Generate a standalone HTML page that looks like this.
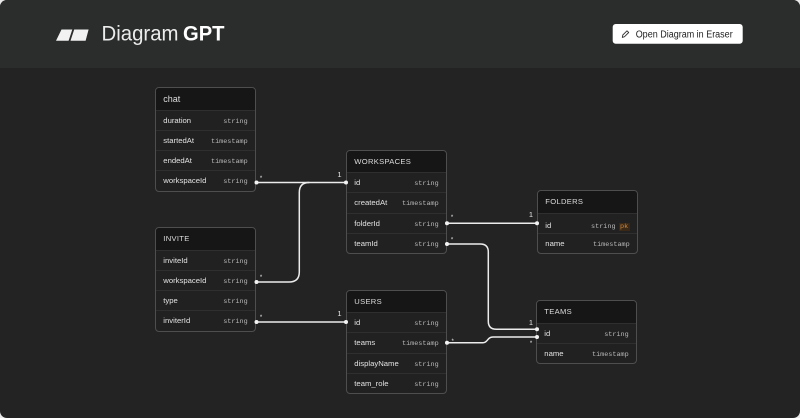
<!DOCTYPE html>
<html>
<head>
<meta charset="utf-8">
<style>
html,body{margin:0;padding:0;width:800px;height:418px;overflow:hidden;background:#e9e9e9;}
#wrap{position:absolute;left:0;top:0;width:800px;height:418px;background:#232323;border-radius:7px;overflow:hidden;}
#hdr{position:absolute;left:0;top:0;width:800px;height:68px;background:#2b2c2c;}
.t{position:absolute;width:101px;box-sizing:border-box;border:1px solid #4e4e4e;border-radius:4px;overflow:hidden;background:#212121;font-family:"Liberation Sans",sans-serif;}
.h{height:21.5px;background:#161616;color:#dcdcdc;font-size:7.6px;letter-spacing:0.3px;line-height:22px;padding-left:7.3px;box-sizing:border-box;}
.h.lc{font-size:9px;letter-spacing:0;}
.r{height:20.25px;box-sizing:border-box;border-top:1px solid #2f2f2f;display:flex;justify-content:space-between;align-items:baseline;padding:0 7.3px;line-height:20px;}
.n{font-size:7.7px;color:#e2e2e2;}
.y{font-family:"Liberation Mono",monospace;font-size:6.8px;color:#b8b8b8;}
.pk{font-family:"Liberation Mono",monospace;font-size:6.8px;color:#d08a3a;background:#3a2916;padding:0 1.5px;margin-left:3px;}
svg{position:absolute;left:0;top:0;}
</style>
</head>
<body>
<div id="wrap">
<div id="hdr"></div>

<svg width="800" height="68" viewBox="0 0 800 68">
  <polygon points="61.5,29.5 72.3,29.5 68.6,40.7 56,40.7" fill="#f2f2f2"/>
  <polygon points="74.2,29.5 88.6,29.5 85.6,40.7 70.5,40.7" fill="#f2f2f2"/>
  <text x="101.5" y="40.7" font-family="Liberation Sans, sans-serif" font-size="21" fill="#ececec" textLength="77" lengthAdjust="spacingAndGlyphs">Diagram</text>
  <text x="183" y="40.7" font-family="Liberation Sans, sans-serif" font-size="21" font-weight="bold" fill="#ffffff" textLength="41.5" lengthAdjust="spacingAndGlyphs">GPT</text>
  <rect x="612.7" y="24" width="130" height="19.7" rx="3" fill="#ffffff"/>
  <path d="M622.3,37.4 L622.8,35 L627,30.8 L628.7,32.5 L624.5,36.7 Z" fill="none" stroke="#333" stroke-width="0.9" stroke-linejoin="round"/>
  <text x="635.7" y="37.6" font-family="Liberation Sans, sans-serif" font-size="10" fill="#222" textLength="97" lengthAdjust="spacingAndGlyphs">Open Diagram in Eraser</text>
</svg>

<!-- chat -->
<div class="t" style="left:155px;top:87px;">
  <div class="h lc">chat</div>
  <div class="r"><span class="n">duration</span><span class="y">string</span></div>
  <div class="r"><span class="n">startedAt</span><span class="y">timestamp</span></div>
  <div class="r"><span class="n">endedAt</span><span class="y">timestamp</span></div>
  <div class="r"><span class="n">workspaceId</span><span class="y">string</span></div>
</div>

<!-- INVITE -->
<div class="t" style="left:155px;top:227px;">
  <div class="h">INVITE</div>
  <div class="r"><span class="n">inviteId</span><span class="y">string</span></div>
  <div class="r"><span class="n">workspaceId</span><span class="y">string</span></div>
  <div class="r"><span class="n">type</span><span class="y">string</span></div>
  <div class="r"><span class="n">inviterId</span><span class="y">string</span></div>
</div>

<!-- WORKSPACES -->
<div class="t" style="left:346px;top:149.5px;">
  <div class="h">WORKSPACES</div>
  <div class="r"><span class="n">id</span><span class="y">string</span></div>
  <div class="r"><span class="n">createdAt</span><span class="y">timestamp</span></div>
  <div class="r"><span class="n">folderId</span><span class="y">string</span></div>
  <div class="r"><span class="n">teamId</span><span class="y">string</span></div>
</div>

<!-- FOLDERS -->
<div class="t" style="left:537px;top:190px;">
  <div class="h">FOLDERS</div>
  <div class="r"><span class="n">id</span><span><span class="y">string</span><span class="pk">pk</span></span></div>
  <div class="r"><span class="n">name</span><span class="y">timestamp</span></div>
</div>

<!-- USERS -->
<div class="t" style="left:346px;top:289.5px;">
  <div class="h">USERS</div>
  <div class="r"><span class="n">id</span><span class="y">string</span></div>
  <div class="r"><span class="n">teams</span><span class="y">timestamp</span></div>
  <div class="r"><span class="n">displayName</span><span class="y">string</span></div>
  <div class="r"><span class="n">team_role</span><span class="y">string</span></div>
</div>

<!-- TEAMS -->
<div class="t" style="left:536px;top:300px;">
  <div class="h">TEAMS</div>
  <div class="r"><span class="n">id</span><span class="y">string</span></div>
  <div class="r"><span class="n">name</span><span class="y">timestamp</span></div>
</div>

<svg width="800" height="418" viewBox="0 0 800 418">
  <g fill="none" stroke="#ececec" stroke-width="1.5">
    <path d="M256,182.5 H346"/>
    <path d="M256,282 H289 Q299.3,282 299.3,272 V192.5 Q299.3,182.5 309.3,182.5"/>
    <path d="M256,322 H346"/>
    <path d="M447,223.3 H537"/>
    <path d="M447,244 H480.3 Q488.3,244 488.3,252 V321.3 Q488.3,329.3 496.3,329.3 H537"/>
    <path d="M447,342.7 H483 C488,342.7 487,337 493,337 H537"/>
  </g>
  <g fill="#f2f2f2">
    <circle cx="256.5" cy="182.5" r="2"/>
    <circle cx="346" cy="182.5" r="2"/>
    <circle cx="256.5" cy="282" r="2"/>
    <circle cx="256.5" cy="322" r="2"/>
    <circle cx="346" cy="322" r="2"/>
    <circle cx="447" cy="223.3" r="2"/>
    <circle cx="537" cy="223.3" r="2"/>
    <circle cx="447" cy="244" r="2"/>
    <circle cx="537" cy="329.3" r="2"/>
    <circle cx="447" cy="342.7" r="2"/>
    <circle cx="537" cy="337" r="2"/>
  </g>
  <g font-family="Liberation Sans, sans-serif" fill="#e6e6e6" text-anchor="middle">
    <text x="339.5" y="177" font-size="7.5">1</text>
    <text x="339.5" y="316" font-size="7.5">1</text>
    <text x="531" y="217" font-size="7.5">1</text>
    <text x="531" y="325" font-size="7.5">1</text>
    <text x="261" y="180" font-size="6">*</text>
    <text x="261" y="279" font-size="6">*</text>
    <text x="261" y="319" font-size="6">*</text>
    <text x="452" y="219" font-size="6">*</text>
    <text x="452" y="241.5" font-size="6">*</text>
    <text x="452.7" y="343" font-size="6">*</text>
    <text x="531" y="345" font-size="6">*</text>
  </g>
</svg>
</div>
</body>
</html>
